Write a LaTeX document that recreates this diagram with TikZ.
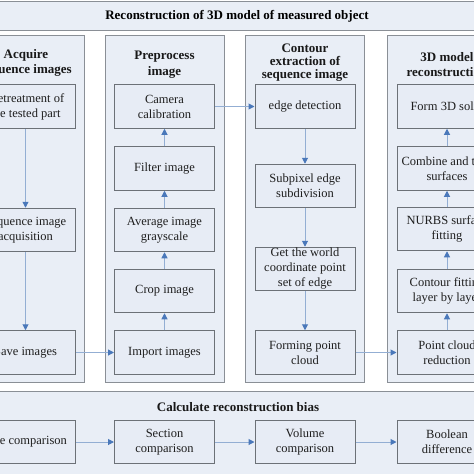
\documentclass[tikz,border=0pt]{standalone}
\usepackage{fontspec}
\setmainfont{Liberation Serif}
\usetikzlibrary{arrows.meta,positioning}
\definecolor{framegray}{HTML}{8A8F96}
\definecolor{boxgray}{HTML}{6C7177}
\definecolor{panelfill}{HTML}{E9EEF6}
\definecolor{boxfill}{HTML}{E7ECF5}
\definecolor{linkblue}{HTML}{93AED3}
\definecolor{tipblue}{HTML}{4A78BA}
\tikzstyle{procbox}=[draw=boxgray,fill=boxfill,line width=1pt,minimum width=100pt,minimum height=43.5pt,inner sep=1pt,align=center,font=\fontsize{12.5}{15}\selectfont,text=black!88]
\tikzstyle{panel}=[draw=framegray,fill=panelfill,line width=1pt,minimum width=119pt,minimum height=347pt,inner sep=0pt]
\tikzstyle{band}=[draw=framegray,fill=panelfill,line width=1pt,minimum width=540pt,inner sep=0pt]
\tikzstyle{heading}=[align=center,inner sep=0pt,text=black!90,font=\bfseries\fontsize{13}{15.5}\selectfont]

\begin{document}
\begin{tikzpicture}[x=1pt,y=-1pt,
every edge/.style={draw=linkblue,line width=1pt,-{Triangle[length=6pt,width=6pt,color=tipblue]}}]
\useasboundingbox (0,0) rectangle (474,474);
\clip (0,0) rectangle (474,474);
\fill[white] (0,0) rectangle (474,474);

% top and bottom bands
\node[band,minimum height=28.5pt,font=\bfseries\fontsize{13}{15}\selectfont] (recon) at (237,16) {Reconstruction of 3D model of measured object};
\node[band,minimum height=90pt] (bias) at (237,436) {};
\node[heading] (biastitle) at (238,407) {Calculate reconstruction bias};

% the four columns
\node[panel] (acqpanel) at (25,208.5) {};
\node[panel] (prepanel) at (164.5,208.5) {};
\node[panel] (conpanel) at (305,208.5) {};
\node[panel] (modpanel) at (447,208.5) {};
\node[heading] (acqhead) at (26,63) {Acquire\\sequence images};
\node[heading] (prehead) at (164.5,64.5) {Preprocess\\image};
\node[heading,font=\bfseries\fontsize{13}{13}\selectfont] (conhead) at (305,63) {Contour\\extraction of\\sequence image};
\node[heading] (modhead) at (447,64.5) {3D model\\reconstruction};

% acquire
\node[procbox] (pretreat) at (25.5,106.5) {Pretreatment of\\the tested part};
\node[procbox] (seqacq) at (25.5,230) {Sequence image\\acquisition};
\node[procbox] (save) at (25.5,352.5) {Save images};

% preprocess
\node[procbox] (camera) at (164.5,106.5) {Camera\\calibration};
\node[procbox] (filter) at (164.5,168.5) {Filter image};
\node[procbox] (average) at (164.5,230) {Average image\\grayscale};
\node[procbox] (crop) at (164.5,291) {Crop image};
\node[procbox] (import) at (164.5,352.5) {Import images};

% contour extraction
\node[procbox] (edge) at (305,106.5) {edge detection};
\node[procbox] (subpix) at (305,186) {Subpixel edge\\subdivision};
\node[procbox] (world) at (305,269) {Get the world\\coordinate point\\set of edge};
\node[procbox] (forming) at (305,352.5) {Forming point\\cloud};

% model reconstruction
\node[procbox] (solid) at (447,106.5) {Form 3D solid};
\node[procbox] (combine) at (447,168.5) {Combine and trim\\surfaces};
\node[procbox] (nurbs) at (447,229) {NURBS surface\\fitting};
\node[procbox] (layer) at (447,291) {Contour fitting\\layer by layer};
\node[procbox] (reduce) at (447,352.5) {Point cloud\\reduction};

% bias
\node[procbox] (sizecmp) at (25.5,442) {Size comparison};
\node[procbox] (sectcmp) at (164.5,442) {Section\\comparison};
\node[procbox] (volcmp) at (305,442) {Volume\\comparison};
\node[procbox] (boolean) at (447,442) {Boolean\\difference};

% links
\path (pretreat) edge (seqacq)
      (seqacq) edge (save)
      (save) edge (import)
      (import) edge (crop)
      (crop) edge (average)
      (average) edge (filter)
      (filter) edge (camera)
      (camera) edge (edge)
      (edge) edge (subpix)
      (subpix) edge (world)
      (world) edge (forming)
      (forming) edge (reduce)
      (reduce) edge (layer)
      (layer) edge (nurbs)
      (nurbs) edge (combine)
      (combine) edge (solid)
      (sizecmp) edge (sectcmp)
      (sectcmp) edge (volcmp)
      (volcmp) edge (boolean);
\end{tikzpicture}
\end{document}
